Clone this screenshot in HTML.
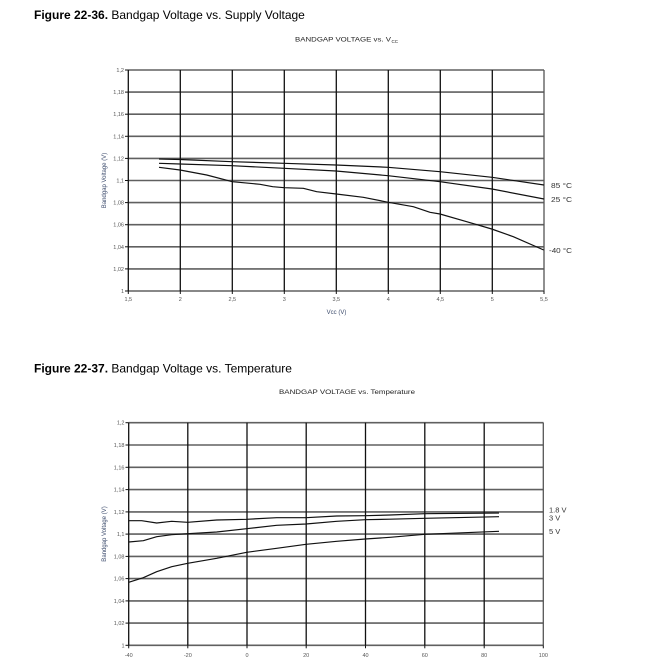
<!DOCTYPE html>
<html><head><meta charset="utf-8"><style>
html,body{margin:0;padding:0;background:#fff;}
svg{display:block;}
</style></head><body>
<svg width="655" height="659" viewBox="0 0 655 659" xmlns="http://www.w3.org/2000/svg" font-family="Liberation Sans, Arial, sans-serif">
<rect width="655" height="659" fill="#fff"/>
<!-- Headings -->
<text x="34" y="19" font-size="12" fill="#000"><tspan font-weight="bold">Figure 22-36.</tspan> Bandgap Voltage vs. Supply Voltage</text>
<text x="34" y="372.5" font-size="12" fill="#000"><tspan font-weight="bold">Figure 22-37.</tspan> Bandgap Voltage vs. Temperature</text>

<!-- Chart 1 -->
<text x="295" y="41.5" font-size="6.5" fill="#222" textLength="96" lengthAdjust="spacingAndGlyphs">BANDGAP VOLTAGE vs. V</text>
<text x="391.5" y="43" font-size="4.5" fill="#222">CC</text>
<g stroke="#606060" stroke-width="1.6" fill="none">
<line x1="128" y1="70" x2="544" y2="70"/>
<line x1="128" y1="92.1" x2="544" y2="92.1"/>
<line x1="128" y1="114.2" x2="544" y2="114.2"/>
<line x1="128" y1="136.3" x2="544" y2="136.3"/>
<line x1="128" y1="158.4" x2="544" y2="158.4"/>
<line x1="128" y1="180.5" x2="544" y2="180.5"/>
<line x1="128" y1="202.6" x2="544" y2="202.6"/>
<line x1="128" y1="224.7" x2="544" y2="224.7"/>
<line x1="128" y1="246.8" x2="544" y2="246.8"/>
<line x1="128" y1="268.9" x2="544" y2="268.9"/>
<line x1="128" y1="291" x2="544" y2="291"/>
</g>
<g stroke="#111" stroke-width="1.3">
<line x1="128.3" y1="70" x2="128.3" y2="291"/>
<line x1="180.3" y1="70" x2="180.3" y2="291"/>
<line x1="232.3" y1="70" x2="232.3" y2="291"/>
<line x1="284.3" y1="70" x2="284.3" y2="291"/>
<line x1="336.3" y1="70" x2="336.3" y2="291"/>
<line x1="388.3" y1="70" x2="388.3" y2="291"/>
<line x1="440.3" y1="70" x2="440.3" y2="291"/>
<line x1="492.3" y1="70" x2="492.3" y2="291"/>
<line x1="544" y1="70" x2="544" y2="291" stroke="#555"/>
</g>
<g stroke="#111" stroke-width="1">
<line x1="125" y1="70" x2="128" y2="70"/><line x1="125" y1="92.1" x2="128" y2="92.1"/><line x1="125" y1="114.2" x2="128" y2="114.2"/><line x1="125" y1="136.3" x2="128" y2="136.3"/><line x1="125" y1="158.4" x2="128" y2="158.4"/><line x1="125" y1="180.5" x2="128" y2="180.5"/><line x1="125" y1="202.6" x2="128" y2="202.6"/><line x1="125" y1="224.7" x2="128" y2="224.7"/><line x1="125" y1="246.8" x2="128" y2="246.8"/><line x1="125" y1="268.9" x2="128" y2="268.9"/><line x1="125" y1="291" x2="128" y2="291"/>
<line x1="128.3" y1="291" x2="128.3" y2="294"/><line x1="180.3" y1="291" x2="180.3" y2="294"/><line x1="232.3" y1="291" x2="232.3" y2="294"/><line x1="284.3" y1="291" x2="284.3" y2="294"/><line x1="336.3" y1="291" x2="336.3" y2="294"/><line x1="388.3" y1="291" x2="388.3" y2="294"/><line x1="440.3" y1="291" x2="440.3" y2="294"/><line x1="492.3" y1="291" x2="492.3" y2="294"/><line x1="544" y1="291" x2="544" y2="294"/>
</g>
<g font-size="5.5" fill="#555" text-anchor="end">
<text x="124" y="72">1,2</text><text x="124" y="94.1">1,18</text><text x="124" y="116.2">1,16</text><text x="124" y="138.3">1,14</text><text x="124" y="160.4">1,12</text><text x="124" y="182.5">1,1</text><text x="124" y="204.6">1,08</text><text x="124" y="226.7">1,06</text><text x="124" y="248.8">1,04</text><text x="124" y="270.9">1,02</text><text x="124" y="293">1</text>
</g>
<g font-size="5.5" fill="#555" text-anchor="middle">
<text x="128.3" y="301">1,5</text><text x="180.3" y="301">2</text><text x="232.3" y="301">2,5</text><text x="284.3" y="301">3</text><text x="336.3" y="301">3,5</text><text x="388.3" y="301">4</text><text x="440.3" y="301">4,5</text><text x="492.3" y="301">5</text><text x="544" y="301">5,5</text>
</g>
<text x="336.5" y="314" font-size="6" fill="#3b4a6b" text-anchor="middle">Vcc (V)</text>
<text transform="translate(106,180.5) rotate(-90)" font-size="6" fill="#3b4a6b" text-anchor="middle">Bandgap Voltage (V)</text>
<g stroke="#111" stroke-width="1.2" fill="none" stroke-linejoin="round">
<polyline points="159,159 180,159.5 232,161.7 284,163.3 336,165 388,167.3 440,171.7 492,177.3 544,185"/>
<polyline points="159,163.3 180,164 232,165.7 284,168.3 336,171 388,175.7 440,181.7 492,189 544,199"/>
<polyline points="159,167.3 180,170 206.7,175 232.3,181.7 260,184.3 272.7,186.7 284.3,187.7 303.3,188.3 316.7,191.7 336.3,194 363.3,197.3 388.3,202.3 413.3,206.7 430,212.3 440,214 466.7,221.7 491.7,229 513.3,236.7 543.7,250"/>
</g>
<g font-size="7" fill="#333">
<text x="551" y="188" textLength="21" lengthAdjust="spacingAndGlyphs">85 °C</text>
<text x="551" y="202" textLength="21" lengthAdjust="spacingAndGlyphs">25 °C</text>
<text x="549" y="253" textLength="23" lengthAdjust="spacingAndGlyphs">-40 °C</text>
</g>

<!-- Chart 2 -->
<text x="279" y="394" font-size="6.5" fill="#222" textLength="136" lengthAdjust="spacingAndGlyphs">BANDGAP VOLTAGE vs. Temperature</text>
<g stroke="#606060" stroke-width="1.6" fill="none">
<line x1="128.5" y1="422.7" x2="543.5" y2="422.7"/>
<line x1="128.5" y1="445" x2="543.5" y2="445"/>
<line x1="128.5" y1="467.3" x2="543.5" y2="467.3"/>
<line x1="128.5" y1="489.6" x2="543.5" y2="489.6"/>
<line x1="128.5" y1="511.9" x2="543.5" y2="511.9"/>
<line x1="128.5" y1="534.1" x2="543.5" y2="534.1"/>
<line x1="128.5" y1="556.4" x2="543.5" y2="556.4"/>
<line x1="128.5" y1="578.6" x2="543.5" y2="578.6"/>
<line x1="128.5" y1="600.9" x2="543.5" y2="600.9"/>
<line x1="128.5" y1="623.1" x2="543.5" y2="623.1"/>
<line x1="128.5" y1="645.3" x2="543.5" y2="645.3"/>
</g>
<g stroke="#111" stroke-width="1.3">
<line x1="128.7" y1="422.7" x2="128.7" y2="645.3"/>
<line x1="187.8" y1="422.7" x2="187.8" y2="645.3"/>
<line x1="247" y1="422.7" x2="247" y2="645.3"/>
<line x1="306.2" y1="422.7" x2="306.2" y2="645.3"/>
<line x1="365.5" y1="422.7" x2="365.5" y2="645.3"/>
<line x1="424.8" y1="422.7" x2="424.8" y2="645.3"/>
<line x1="484.2" y1="422.7" x2="484.2" y2="645.3"/>
<line x1="543.3" y1="422.7" x2="543.3" y2="645.3" stroke="#555"/>
</g>
<g stroke="#111" stroke-width="1">
<line x1="125.5" y1="422.7" x2="128.5" y2="422.7"/><line x1="125.5" y1="445" x2="128.5" y2="445"/><line x1="125.5" y1="467.3" x2="128.5" y2="467.3"/><line x1="125.5" y1="489.6" x2="128.5" y2="489.6"/><line x1="125.5" y1="511.9" x2="128.5" y2="511.9"/><line x1="125.5" y1="534.1" x2="128.5" y2="534.1"/><line x1="125.5" y1="556.4" x2="128.5" y2="556.4"/><line x1="125.5" y1="578.6" x2="128.5" y2="578.6"/><line x1="125.5" y1="600.9" x2="128.5" y2="600.9"/><line x1="125.5" y1="623.1" x2="128.5" y2="623.1"/><line x1="125.5" y1="645.3" x2="128.5" y2="645.3"/>
<line x1="128.7" y1="645.3" x2="128.7" y2="648.3"/><line x1="187.8" y1="645.3" x2="187.8" y2="648.3"/><line x1="247" y1="645.3" x2="247" y2="648.3"/><line x1="306.2" y1="645.3" x2="306.2" y2="648.3"/><line x1="365.5" y1="645.3" x2="365.5" y2="648.3"/><line x1="424.8" y1="645.3" x2="424.8" y2="648.3"/><line x1="484.2" y1="645.3" x2="484.2" y2="648.3"/><line x1="543.3" y1="645.3" x2="543.3" y2="648.3"/>
</g>
<g font-size="5.5" fill="#555" text-anchor="end">
<text x="124.5" y="424.7">1,2</text><text x="124.5" y="447">1,18</text><text x="124.5" y="469.3">1,16</text><text x="124.5" y="491.6">1,14</text><text x="124.5" y="513.9">1,12</text><text x="124.5" y="536.1">1,1</text><text x="124.5" y="558.4">1,08</text><text x="124.5" y="580.6">1,06</text><text x="124.5" y="602.9">1,04</text><text x="124.5" y="625.1">1,02</text><text x="124.5" y="647.3">1</text>
</g>
<g font-size="5.5" fill="#555" text-anchor="middle">
<text x="128.7" y="657">-40</text><text x="187.8" y="657">-20</text><text x="247" y="657">0</text><text x="306.2" y="657">20</text><text x="365.5" y="657">40</text><text x="424.8" y="657">60</text><text x="484.2" y="657">80</text><text x="543.3" y="657">100</text>
</g>
<text transform="translate(106,534) rotate(-90)" font-size="6" fill="#3b4a6b" text-anchor="middle">Bandgap Voltage (V)</text>
<g stroke="#111" stroke-width="1.2" fill="none" stroke-linejoin="round">
<polyline points="128.7,520.7 141.7,520.7 156.7,523 171.7,521.3 187.7,522.3 216.7,520 246.7,519.3 276.7,517.7 306,517.7 336.7,516 365.3,515.7 390,515 424.7,513.7 499,513"/>
<polyline points="128.7,542 143.3,540.7 156.7,536.7 171.7,534.7 187.7,533.7 216.7,532 246.7,528.7 276.7,525.3 306,524 336.7,521.3 365.3,519.7 390,519.2 424.7,518.3 499,516.7"/>
<polyline points="128.7,582.3 143.3,577.7 156.7,571.7 171.7,566.7 187.7,563.3 216.7,558.3 246.7,552.3 276.7,548.3 306,544.3 336.7,541.3 365.3,539 390,537.3 424.7,534.3 499,531.3"/>
</g>
<g font-size="7.5" fill="#333">
<text x="549" y="512.5">1.8 V</text>
<text x="549" y="520.5">3 V</text>
<text x="549" y="534">5 V</text>
</g>
</svg>
</body></html>
